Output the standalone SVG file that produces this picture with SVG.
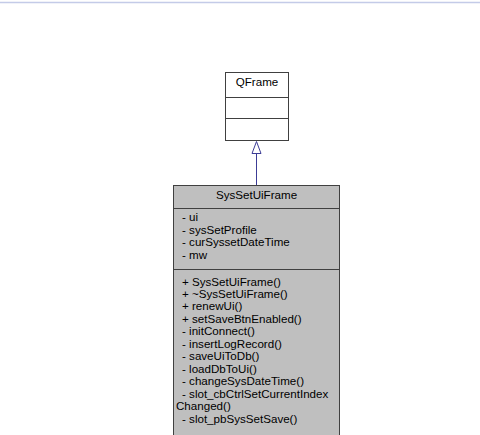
<svg xmlns="http://www.w3.org/2000/svg" width="480" height="435" viewBox="0 0 480 435">
<style>
.box{stroke:#404040;stroke-width:1}
.t{font-family:"Liberation Sans",Arial,sans-serif;font-size:11.6px;fill:#000}
.c{text-anchor:middle}
.edge{stroke:#3c3c96;stroke-width:1;fill:none}
.head{fill:#fff;stroke:#3c3c96;stroke-width:1}
</style>
<rect x="0" y="0" width="480" height="435" fill="#fff"/>
<line x1="0" y1="2.5" x2="480" y2="2.5" stroke="#c4cbe8" stroke-width="1.5"/>
<g id="edges">
<line class="edge" x1="256.5" y1="185" x2="256.5" y2="154"/>
<path class="head" d="M256.5,141.5 L261,153.5 L252,153.5 Z"/>
</g>
<g id="QFrame">
<rect class="box" x="225.5" y="72.5" width="63" height="68" fill="#fff"/>
<line class="box" x1="225.5" y1="97.5" x2="288.5" y2="97.5"/>
<line class="box" x1="225.5" y1="118.5" x2="288.5" y2="118.5"/>
<text class="t c" x="257" y="86">QFrame</text>
</g>
<g id="SysSetUiFrame">
<rect class="box" x="173.5" y="185.5" width="166" height="260" fill="#bfbfbf"/>
<line class="box" x1="173.5" y1="208.5" x2="339.5" y2="208.5"/>
<line class="box" x1="173.5" y1="269.5" x2="339.5" y2="269.5"/>
<text class="t c" x="256.5" y="199">SysSetUiFrame</text>
<text class="t" x="182" y="221">- ui</text>
<text class="t" x="182" y="233.5">- sysSetProfile</text>
<text class="t" x="182" y="246">- curSyssetDateTime</text>
<text class="t" x="182" y="258.5">- mw</text>
<text class="t" x="182" y="286">+ SysSetUiFrame()</text>
<text class="t" x="182" y="298">+ ~SysSetUiFrame()</text>
<text class="t" x="182" y="310">+ renewUi()</text>
<text class="t" x="182" y="323">+ setSaveBtnEnabled()</text>
<text class="t" x="182" y="335">- initConnect()</text>
<text class="t" x="182" y="347.5">- insertLogRecord()</text>
<text class="t" x="182" y="360">- saveUiToDb()</text>
<text class="t" x="182" y="372.5">- loadDbToUi()</text>
<text class="t" x="182" y="385">- changeSysDateTime()</text>
<text class="t" x="182" y="397.5">- slot_cbCtrlSetCurrentIndex</text>
<text class="t" x="176" y="410">Changed()</text>
<text class="t" x="182" y="422.5">- slot_pbSysSetSave()</text>
</g>
</svg>
